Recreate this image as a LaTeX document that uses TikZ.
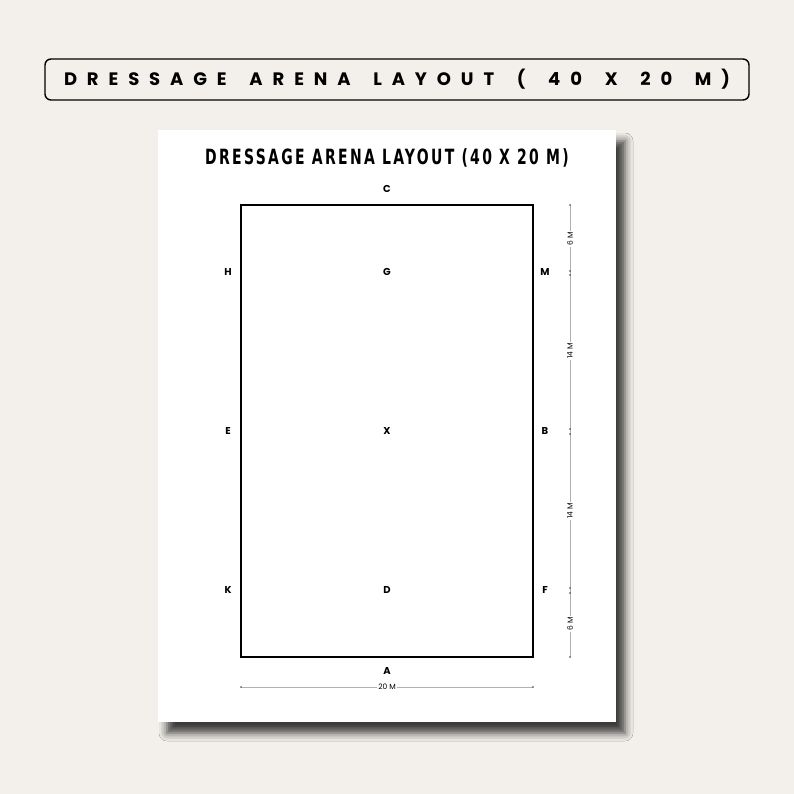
\documentclass[tikz,border=0pt]{standalone}
\usepackage{fontspec}
\setmainfont{Poppins}
\newfontfamily\bannerfont[LetterSpace=55]{Poppins}
\newfontfamily\sheetfont[LetterSpace=15]{DejaVu Sans Condensed}
\usetikzlibrary{shadows.blur}
\definecolor{canvas}{HTML}{F3F0EB}
\definecolor{dimgray}{HTML}{B0B0B0}
\newcommand{\wgap}{\hspace{9pt}}
\tikzset{
  marker/.style={font=\fontsize{10}{12}\selectfont\bfseries, inner sep=0pt},
  dimlabel/.style={font=\fontsize{7.5}{9}\selectfont, fill=white, inner sep=1.5pt},
  dimline/.style={draw=dimgray, line width=0.8pt},
}
\begin{document}
\begin{tikzpicture}[x=1pt, y=-1pt]
        \fill[canvas] (0,0) rectangle (794,794);
        % banner
        \draw[line width=1.4pt, rounded corners=6pt, fill=canvas] (45,59) rectangle (749,100);
        \node (banner) at (397,79.5) {\bannerfont\fontsize{18}{22}\selectfont\bfseries DRESSAGE \wgap ARENA \wgap LAYOUT \wgap ( \wgap 40 \wgap X \wgap 20 \wgap M)};
        % sheet
        \fill[white, blur shadow={shadow xshift=9pt, shadow yshift=-11pt, shadow blur radius=8pt, shadow opacity=75}] (158,130) rectangle (616,722);
        \node (sheettitle) at (387,158) {\scalebox{0.74}[1]{\sheetfont\fontsize{21}{24}\selectfont\bfseries DRESSAGE ARENA LAYOUT (40 X 20 M)}};
        % arena
        \coordinate (nw) at (241,205);
        \coordinate (se) at (533,657);
        \draw[line width=1.5pt] (nw) rectangle (se);
        \node[marker] (C) at (387,189) {C};
        \node[marker] (A) at (387,671) {A};
        \node[marker] (H) at (228,272) {H};
        \node[marker] (G) at (387,272) {G};
        \node[marker] (M) at (545,272) {M};
        \node[marker] (E) at (228,431) {E};
        \node[marker] (X) at (387,431) {X};
        \node[marker] (B) at (545,431) {B};
        \node[marker] (K) at (228,590) {K};
        \node[marker] (D) at (387,590) {D};
        \node[marker] (F) at (545,590) {F};
        % long side measure
        \coordinate (rtop) at (570,205);
        \coordinate (rbot) at (570,657);
        \draw[dimline] (rtop) -- (rbot);
        \node[dimlabel, rotate=90] (six1) at (570,239) {6 M};
        \node[dimlabel, rotate=90] (fourteen1) at (570,351) {14 M};
        \node[dimlabel, rotate=90] (fourteen2) at (570,511) {14 M};
        \node[dimlabel, rotate=90] (six2) at (570,624) {6 M};
        \foreach \y in {205,271,275,429,434,588,593,657}
          \fill[black!75] (570,\y) circle (0.9pt);
        % short side measure
        \coordinate (bleft) at (241,687);
        \coordinate (bright) at (533,687);
        \draw[dimline] (bleft) -- (bright);
        \node[dimlabel] (twenty) at (387,687) {20 M};
        \foreach \x in {241,533}
          \fill[black!75] (\x,687) circle (0.9pt);
\end{tikzpicture}
\end{document}
